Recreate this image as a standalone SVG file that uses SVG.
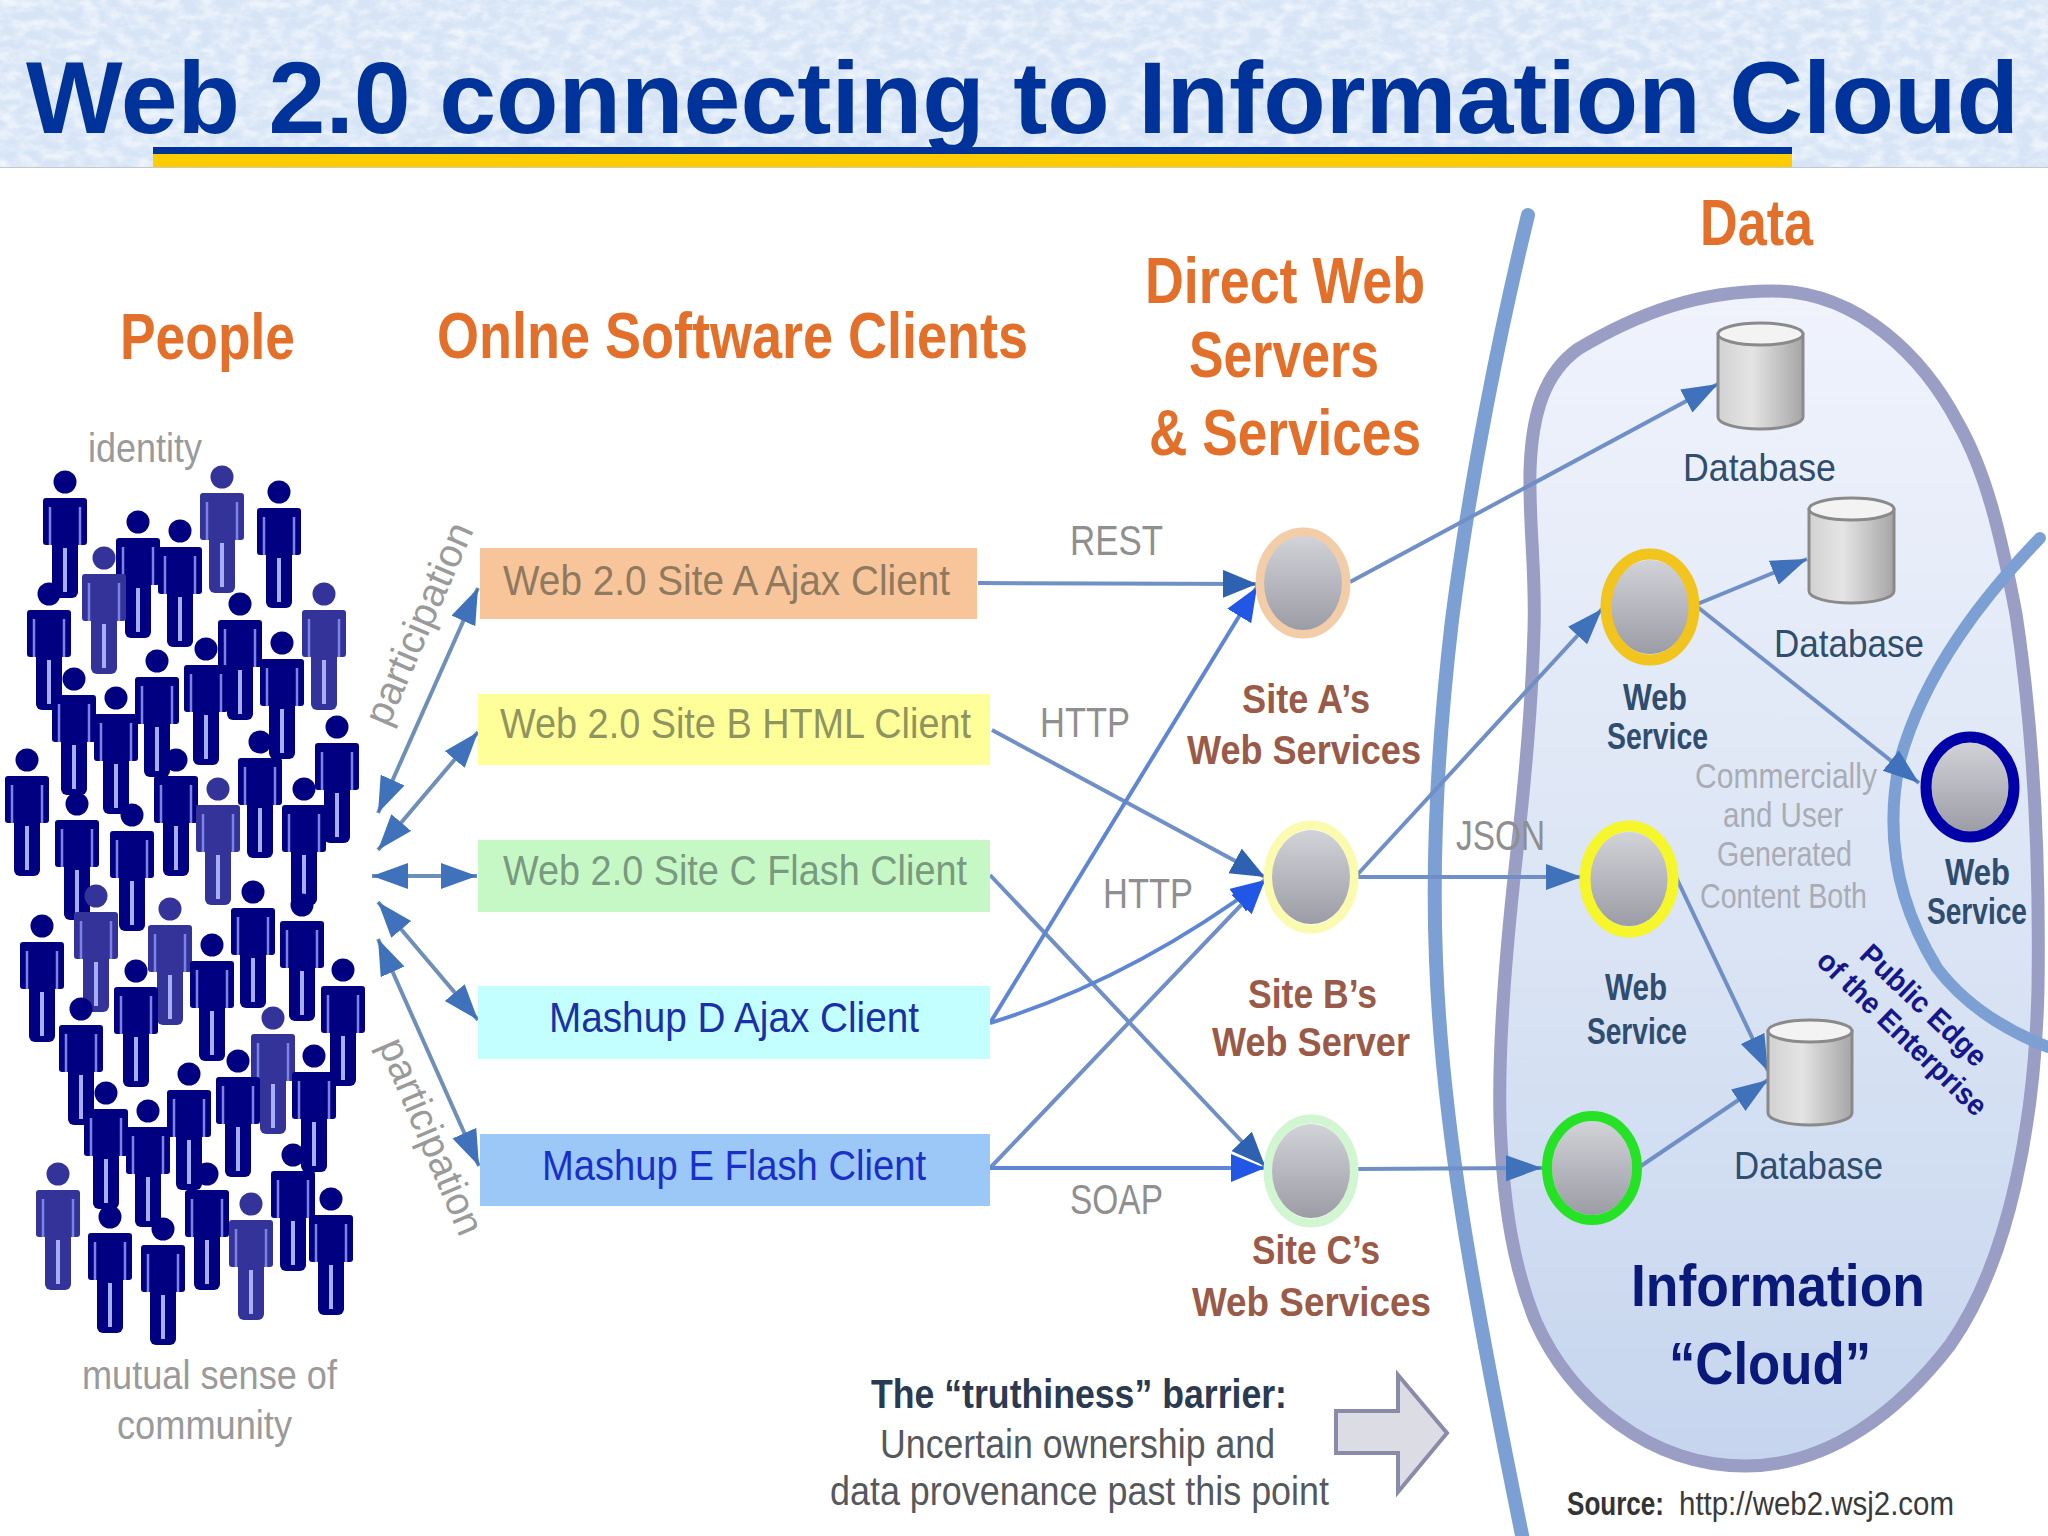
<svg xmlns="http://www.w3.org/2000/svg" width="2048" height="1536" viewBox="0 0 2048 1536">
<style>
text{font-family:"Liberation Sans",Arial,sans-serif}
.h{font-size:64px;font-weight:bold;fill:#E2702A}
.cl{font-size:42px}
.p{font-size:40px;fill:#9a9a9a}
.lab{font-size:42px;fill:#8f8f8f}
.site{font-size:40px;font-weight:bold;fill:#9A5A48}
.db{font-size:39px;fill:#2F4D6E}
.ws{font-size:37px;font-weight:bold;fill:#2F4D6E}
.cm{font-size:35px;fill:#A9ACB4}
.edge{font-size:30px;font-weight:bold;fill:#16168C}
.ic{font-size:60px;font-weight:bold;fill:#0A1A7A}
.tr{font-size:40px;fill:#55585C}
.bar{fill:none;stroke:#7DA0D4;stroke-linecap:round}
.c{fill:none;stroke:#6F8FC6;stroke-width:4}
.cb{fill:none;stroke:#5F86D2;stroke-width:4}
.l{stroke:#6E8FB8;stroke-width:4}
.dbb{fill:url(#dbg);stroke:#8A8A8A;stroke-width:3}
.dbt{fill:#F3F3F3;stroke:#8A8A8A;stroke-width:3}
.ball{fill:url(#ball)}
.ring{fill:none}
</style>
<defs>
<filter id="mott" x="0" y="0" width="100%" height="100%"><feTurbulence type="fractalNoise" baseFrequency="0.06 0.1" numOctaves="4" seed="5"/><feColorMatrix type="matrix" values="0 0 0 0 1 0 0 0 0 1 0 0 0 0 1 1.3 0 0 0 -0.45"/></filter>
<linearGradient id="cloud" x1="0" y1="0" x2="0" y2="1"><stop offset="0" stop-color="#F0F3FC"/><stop offset="0.55" stop-color="#DAE4F4"/><stop offset="1" stop-color="#C6D5EE"/></linearGradient>
<linearGradient id="ball" x1="0" y1="0" x2="0" y2="1"><stop offset="0" stop-color="#D2D3D8"/><stop offset="1" stop-color="#9C9CA6"/></linearGradient>
<linearGradient id="dbg" x1="0" y1="0" x2="1" y2="0"><stop offset="0" stop-color="#D2D2D2"/><stop offset="0.4" stop-color="#E4E4E4"/><stop offset="1" stop-color="#A6A6A6"/></linearGradient>
<g id="pb"><circle cy="0" r="11.500"/><rect x="-22" y="16" width="44" height="47" rx="3"/><rect x="-13" y="16" width="26" height="100" rx="6"/><path d="M-15 25V63M15 25V63" stroke="#7E82E2" stroke-width="2.500" fill="none"/><path d="M0 66V110" stroke="#A8AEF5" stroke-width="4" fill="none"/></g>
<marker id="a" markerUnits="userSpaceOnUse" markerWidth="38" markerHeight="28" refX="36" refY="13" orient="auto-start-reverse"><path d="M0 0L36 13L0 26Z" fill="#3F72BA"/></marker>
<marker id="ad" markerUnits="userSpaceOnUse" markerWidth="36" markerHeight="30" refX="34" refY="14" orient="auto"><path d="M0 0L34 14L0 28Z" fill="#2E62B0"/></marker>
<marker id="ab" markerUnits="userSpaceOnUse" markerWidth="36" markerHeight="30" refX="34" refY="14" orient="auto"><path d="M0 0L34 14L0 28Z" fill="#2257E6"/></marker>
</defs>

<rect width="2048" height="1536" fill="#FFFFFF"/>
<g id="header">
<rect width="2048" height="167" fill="#D6E4F6"/>
<rect width="2048" height="167" filter="url(#mott)"/>
<rect y="167" width="2048" height="1" fill="#C4C8CC"/>
<rect x="153" y="147" width="1639" height="7" fill="#003399"/>
<rect x="153" y="154" width="1639" height="13" fill="#FFCC00"/>
<text x="26" y="133" font-size="102" font-weight="bold" fill="#003399" textLength="1993" lengthAdjust="spacingAndGlyphs">Web 2.0 connecting to Information Cloud</text>
</g>

<g id="headings">
<text class="h" x="120" y="359" textLength="175" lengthAdjust="spacingAndGlyphs">People</text>
<text class="h" x="437" y="358" textLength="591" lengthAdjust="spacingAndGlyphs">Onlne Software Clients</text>
<text class="h" x="1145" y="303" textLength="280" lengthAdjust="spacingAndGlyphs">Direct Web</text>
<text class="h" x="1189" y="377" textLength="190" lengthAdjust="spacingAndGlyphs">Servers</text>
<text class="h" x="1149" y="455" textLength="272" lengthAdjust="spacingAndGlyphs">&amp; Services</text>
<text class="h" x="1700" y="245" font-size="60" textLength="113" lengthAdjust="spacingAndGlyphs">Data</text>
</g>

<g id="people-group">
<g fill="#000080">
<use href="#pb" x="65" y="482"/><use href="#pb" x="279" y="492"/><use href="#pb" x="138" y="522"/><use href="#pb" x="180" y="531"/><use href="#pb" x="49" y="594"/><use href="#pb" x="240" y="604"/><use href="#pb" x="282" y="643"/><use href="#pb" x="206" y="649"/><use href="#pb" x="157" y="661"/><use href="#pb" x="74" y="679"/><use href="#pb" x="116" y="698"/><use href="#pb" x="337" y="727"/><use href="#pb" x="260" y="742"/><use href="#pb" x="176" y="760"/><use href="#pb" x="27" y="760"/><use href="#pb" x="77" y="804"/><use href="#pb" x="132" y="815"/><use href="#pb" x="304" y="789"/>
</g>
<g fill="#333399">
<use href="#pb" x="222" y="477"/><use href="#pb" x="104" y="558"/><use href="#pb" x="324" y="594"/><use href="#pb" x="218" y="789"/><use href="#pb" x="96" y="896"/><use href="#pb" x="170" y="909"/><use href="#pb" x="273" y="1018"/><use href="#pb" x="58" y="1174"/><use href="#pb" x="251" y="1204"/>
</g>
<g fill="#000080">
<use href="#pb" x="253" y="892"/><use href="#pb" x="42" y="926"/><use href="#pb" x="302" y="905"/><use href="#pb" x="212" y="945"/><use href="#pb" x="136" y="971"/><use href="#pb" x="343" y="970"/><use href="#pb" x="81" y="1009"/><use href="#pb" x="238" y="1061"/><use href="#pb" x="314" y="1056"/><use href="#pb" x="189" y="1074"/><use href="#pb" x="106" y="1093"/><use href="#pb" x="148" y="1111"/><use href="#pb" x="293" y="1155"/><use href="#pb" x="207" y="1174"/><use href="#pb" x="110" y="1217"/><use href="#pb" x="163" y="1229"/><use href="#pb" x="331" y="1199"/>
</g>
<text class="p" x="88" y="462" textLength="114" lengthAdjust="spacingAndGlyphs">identity</text>
<text class="p" x="82" y="1389" textLength="255" lengthAdjust="spacingAndGlyphs">mutual sense of</text>
<text class="p" x="117" y="1439" textLength="175" lengthAdjust="spacingAndGlyphs">community</text>
</g>

<g id="barriers">
<path class="bar" stroke-width="14" d="M1528 215C1500 330 1470 480 1452 620C1438 740 1432 860 1436 960C1442 1120 1470 1280 1524 1545"/>
</g>
<g id="information-cloud">
<path fill="url(#cloud)" stroke="#9A9EC4" stroke-width="13" d="M1772 291C1700 291 1640 312 1578 349C1546 372 1532 410 1530 470C1529 530 1536 570 1534 630C1532 700 1524 790 1516 860C1506 950 1498 1040 1500 1119C1503 1210 1515 1270 1535 1320C1570 1400 1650 1466 1745 1466C1830 1466 1900 1410 1950 1345C2010 1260 2035 1120 2038 989C2040 850 2032 720 2016 614C2000 530 1985 470 1958 423C1925 360 1860 291 1772 291Z"/>
<path class="bar" stroke-width="12" d="M2040 538C1985 595 1925 670 1900 760C1885 830 1895 900 1937 968C1965 1005 2005 1030 2048 1047"/>
</g>

<g id="connectors">
<path class="l" d="M378 813L478 588" marker-start="url(#a)" marker-end="url(#a)"/>
<path class="l" d="M378 850L478 732" marker-start="url(#a)" marker-end="url(#a)"/>
<path class="l" d="M372 876L477 876" marker-start="url(#a)" marker-end="url(#a)"/>
<path class="l" d="M378 902L478 1020" marker-start="url(#a)" marker-end="url(#a)"/>
<path class="l" d="M378 939L479 1166" marker-start="url(#a)" marker-end="url(#a)"/>
<path class="c" d="M978 583L1257 584" marker-end="url(#ad)"/>
<path class="c" d="M992 730L1265 877" marker-end="url(#ad)"/>
<path class="c" d="M990 875L1265 1166" marker-end="url(#ad)"/>
<path class="cb" d="M990 1023L1257 587" marker-end="url(#ab)"/>
<path class="cb" d="M990 1023Q1130 980 1265 880" marker-end="url(#ab)"/>
<path class="c" d="M990 1168L1265 880" marker-end="url(#ab)"/>
<path class="cb" d="M990 1168L1265 1168" marker-end="url(#ab)"/>
<path class="c" d="M1350 582L1718 384" marker-end="url(#a)"/>
<path class="c" d="M1357 875L1602 609" marker-end="url(#a)"/>
<path class="c" d="M1357 877L1582 877" marker-end="url(#a)"/>
<path class="c" d="M1695 605L1807 559" marker-end="url(#a)"/>
<path class="c" d="M1695 605L1919 783" marker-end="url(#a)"/>
<path class="c" d="M1675 875L1768 1071" marker-end="url(#a)"/>
<path class="c" d="M1638 1168L1768 1080" marker-end="url(#a)"/>
<path class="c" d="M1357 1169L1542 1168" marker-end="url(#a)"/>
<text class="p" transform="translate(388 728) rotate(-66.500)" font-size="38" textLength="216" lengthAdjust="spacingAndGlyphs">participation</text>
<text class="p" transform="translate(378 1045) rotate(67)" font-size="38" textLength="210" lengthAdjust="spacingAndGlyphs">participation</text>
<text class="lab" x="1070" y="555" textLength="93" lengthAdjust="spacingAndGlyphs">REST</text>
<text class="lab" x="1040" y="737" textLength="90" lengthAdjust="spacingAndGlyphs">HTTP</text>
<text class="lab" x="1103" y="908" textLength="90" lengthAdjust="spacingAndGlyphs">HTTP</text>
<text class="lab" x="1070" y="1214" textLength="93" lengthAdjust="spacingAndGlyphs">SOAP</text>
<text class="lab" x="1456" y="850" textLength="89" lengthAdjust="spacingAndGlyphs">JSON</text>
</g>

<g id="client-a"><rect x="480" y="548" width="497" height="71" fill="#F8C59B"/><text class="cl" x="503" y="595" fill="#8F7A60" textLength="447" lengthAdjust="spacingAndGlyphs">Web 2.0 Site A Ajax Client</text></g>
<g id="client-b"><rect x="478" y="694" width="512" height="71" fill="#FFFF99"/><text class="cl" x="500" y="738" fill="#8F9460" textLength="471" lengthAdjust="spacingAndGlyphs">Web 2.0 Site B HTML Client</text></g>
<g id="client-c"><rect x="478" y="840" width="512" height="72" fill="#C6F8C6"/><text class="cl" x="503" y="885" fill="#7A9A80" textLength="464" lengthAdjust="spacingAndGlyphs">Web 2.0 Site C Flash Client</text></g>
<g id="client-d"><rect x="478" y="986" width="512" height="73" fill="#C4FFFF"/><text class="cl" x="549" y="1032" fill="#1A2FA8" textLength="370" lengthAdjust="spacingAndGlyphs">Mashup D Ajax Client</text></g>
<g id="client-e"><rect x="480" y="1134" width="510" height="72" fill="#9CC8F8"/><text class="cl" x="542" y="1180" fill="#1A2FC8" textLength="384" lengthAdjust="spacingAndGlyphs">Mashup E Flash Client</text></g>

<g id="site-a"><ellipse cx="1303" cy="583" rx="43" ry="51" fill="none" stroke="#F2CDA8" stroke-width="9"/><ellipse class="ball" cx="1303" cy="583" rx="39" ry="47"/><text class="site" x="1242" y="713" textLength="128" lengthAdjust="spacingAndGlyphs">Site A’s</text><text class="site" x="1187" y="764" textLength="234" lengthAdjust="spacingAndGlyphs">Web Services</text></g>
<g id="site-b"><ellipse cx="1311" cy="877" rx="43" ry="52" fill="none" stroke="#FBFBB0" stroke-width="9"/><ellipse class="ball" cx="1311" cy="877" rx="39" ry="47"/><text class="site" x="1248" y="1008" textLength="129" lengthAdjust="spacingAndGlyphs">Site B’s</text><text class="site" x="1212" y="1056" textLength="198" lengthAdjust="spacingAndGlyphs">Web Server</text></g>
<g id="site-c"><ellipse cx="1311" cy="1171" rx="43" ry="52" fill="none" stroke="#D2F5D2" stroke-width="9"/><ellipse class="ball" cx="1311" cy="1171" rx="39" ry="47"/><text class="site" x="1252" y="1264" textLength="128" lengthAdjust="spacingAndGlyphs">Site C’s</text><text class="site" x="1192" y="1316" textLength="239" lengthAdjust="spacingAndGlyphs">Web Services</text></g>

<g id="service-gold"><ellipse class="ball" cx="1650" cy="607" rx="40" ry="47"/><ellipse class="ring" cx="1650" cy="607" rx="44" ry="53" stroke="#F2C41E" stroke-width="11"/><text class="ws" x="1623" y="710" textLength="64" lengthAdjust="spacingAndGlyphs">Web</text><text class="ws" x="1607" y="749" textLength="101" lengthAdjust="spacingAndGlyphs">Service</text></g>
<g id="service-yellow"><ellipse class="ball" cx="1629" cy="879" rx="40" ry="47"/><ellipse class="ring" cx="1629" cy="879" rx="44" ry="53" stroke="#F6F62C" stroke-width="11"/><text class="ws" x="1605" y="1000" textLength="62" lengthAdjust="spacingAndGlyphs">Web</text><text class="ws" x="1587" y="1044" textLength="100" lengthAdjust="spacingAndGlyphs">Service</text></g>
<g id="service-green"><ellipse class="ball" cx="1592" cy="1168" rx="40" ry="47"/><ellipse class="ring" cx="1592" cy="1168" rx="45" ry="52" stroke="#26E226" stroke-width="10"/></g>
<g id="service-blue"><ellipse class="ball" cx="1970" cy="787" rx="40" ry="46"/><ellipse class="ring" cx="1970" cy="787" rx="44" ry="50" stroke="#0000A8" stroke-width="11"/><text class="ws" x="1945" y="885" textLength="65" lengthAdjust="spacingAndGlyphs">Web</text><text class="ws" x="1927" y="924" textLength="100" lengthAdjust="spacingAndGlyphs">Service</text></g>

<g id="database-1"><path class="dbb" d="M1718 334V417C1718 424 1738 429 1760 429C1783 429 1803 424 1803 417V334Z"/><ellipse class="dbt" cx="1760.500" cy="334" rx="42.500" ry="11"/><text class="db" x="1683" y="481" textLength="153" lengthAdjust="spacingAndGlyphs">Database</text></g>
<g id="database-2"><path class="dbb" d="M1809 509V591C1809 598 1829 603 1851 603C1874 603 1894 598 1894 591V509Z"/><ellipse class="dbt" cx="1851.500" cy="509" rx="42.500" ry="11"/><text class="db" x="1774" y="657" textLength="150" lengthAdjust="spacingAndGlyphs">Database</text></g>
<g id="database-3"><path class="dbb" d="M1768 1031V1113C1768 1120 1788 1125 1810 1125C1832 1125 1852 1120 1852 1113V1031Z"/><ellipse class="dbt" cx="1810" cy="1031" rx="42" ry="11"/><text class="db" x="1734" y="1179" textLength="149" lengthAdjust="spacingAndGlyphs">Database</text></g>

<g id="cloud-labels">
<text class="cm" x="1695" y="788" textLength="182" lengthAdjust="spacingAndGlyphs">Commercially</text>
<text class="cm" x="1723" y="827" textLength="120" lengthAdjust="spacingAndGlyphs">and User</text>
<text class="cm" x="1717" y="866" textLength="135" lengthAdjust="spacingAndGlyphs">Generated</text>
<text class="cm" x="1700" y="908" textLength="167" lengthAdjust="spacingAndGlyphs">Content Both</text>
<text class="edge" transform="translate(1858 957) rotate(43.500)" textLength="162" lengthAdjust="spacingAndGlyphs">Public Edge</text>
<text class="edge" transform="translate(1815 963) rotate(44)" textLength="223" lengthAdjust="spacingAndGlyphs">of the Enterprise</text>
<text class="ic" x="1631" y="1306" textLength="294" lengthAdjust="spacingAndGlyphs">Information</text>
<text class="ic" x="1669" y="1384" textLength="202" lengthAdjust="spacingAndGlyphs">“Cloud”</text>
</g>

<g id="truthiness">
<text class="tr" x="871" y="1408" font-weight="bold" style="fill:#2A3A50" textLength="416" lengthAdjust="spacingAndGlyphs">The “truthiness” barrier:</text>
<text class="tr" x="880" y="1458" textLength="395" lengthAdjust="spacingAndGlyphs">Uncertain ownership and</text>
<text class="tr" x="830" y="1505" textLength="499" lengthAdjust="spacingAndGlyphs">data provenance past this point</text>
<path d="M1336 1411H1398V1375L1447 1433L1398 1492V1453H1336Z" fill="#DCDCE4" stroke="#8A8AAA" stroke-width="4"/>
</g>
<g id="source">
<text x="1567" y="1515" font-size="34" font-weight="bold" fill="#333333" textLength="97" lengthAdjust="spacingAndGlyphs">Source:</text>
<text x="1679" y="1515" font-size="34" fill="#3A3A3A" textLength="275" lengthAdjust="spacingAndGlyphs">http://web2.wsj2.com</text>
</g>
</svg>
